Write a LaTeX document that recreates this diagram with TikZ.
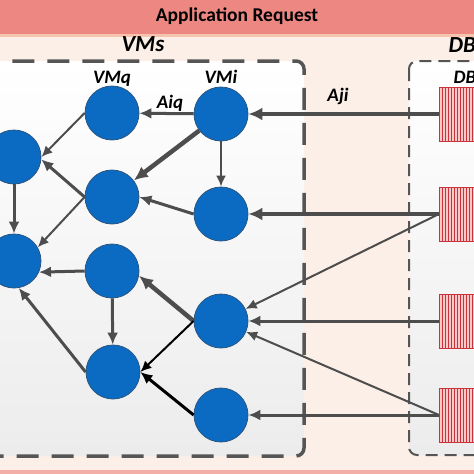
\documentclass[tikz,border=0pt]{standalone}
\usepackage{fontspec}
\setmainfont{Carlito}
\usetikzlibrary{arrows.meta}
\definecolor{vmblue}{HTML}{0B6BC2}
\definecolor{vmedge}{HTML}{2A5580}
\definecolor{linkgray}{HTML}{4D4D4D}
\definecolor{peach}{HTML}{FCEFE7}
\definecolor{banner}{HTML}{EC8782}
\definecolor{bannerlight}{HTML}{F6C3AE}
\definecolor{bottompink}{HTML}{F2AEA7}
\definecolor{boxgray}{HTML}{555555}
\definecolor{boxfill}{HTML}{ECECEC}
\definecolor{dbpink}{HTML}{F9C9C9}
\definecolor{dbred}{HTML}{C9343A}
\tikzset{
  vm/.style={circle,fill=vmblue,draw=vmedge,line width=0.8pt,minimum size=54pt,inner sep=0pt},
  dbbox/.style={rectangle,fill=dbpink,draw=dbred,line width=0.8pt,minimum width=50pt,minimum height=54pt,inner sep=0pt,anchor=west,
    path picture={\foreach \s in {1,...,16}{\draw[dbred,line width=0.9pt] ([xshift=\s*3pt]path picture bounding box.south west) -- ([xshift=\s*3pt]path picture bounding box.north west);}}},
  lab/.style={anchor=base,font=\fontsize{19}{19}\selectfont\bfseries\itshape},
  labbig/.style={lab,font=\fontsize{23}{23}\selectfont\bfseries\itshape},
  lnk/.style={draw=linkgray,-{Latex[length=11pt,width=10pt]}},
  lnkthin/.style={lnk,line width=2pt},
  lnkmid/.style={lnk,line width=3pt,-{Latex[length=12pt,width=11pt]}},
  lnkthick/.style={lnk,line width=4.5pt,-{Latex[length=14pt,width=13pt]}},
}
\begin{document}
\begin{tikzpicture}[x=1pt,y=-1pt]
\useasboundingbox (0,0) rectangle (474,474);
\clip (0,0) rectangle (474,474);
\fill[peach] (0,0) rectangle (474,474);
\fill[bannerlight] (0,0) rectangle (474,37);
\fill[banner] (0,0) rectangle (474,34);
\fill[bottompink] (0,470) rectangle (474,474);
\node[anchor=base,font=\fontsize{19.5}{19.5}\selectfont\bfseries] (req) at (237,21) {Application Request};

\draw[boxgray,line width=3.5pt,dash pattern=on 22pt off 13pt,rounded corners=8pt,top color=white,bottom color=boxfill] (-20,61) rectangle (304,456);
\draw[boxgray,line width=2pt,dash pattern=on 12pt off 7pt,rounded corners=8pt,top color=white,bottom color=boxfill] (409,61) rectangle (520,455);
\node[labbig] (vms) at (143,51) {VMs};
\node[labbig,anchor=base west] (dbs) at (445,52) {DBs};
\node[lab,anchor=base west] (dbj) at (450,83) {DBj};

\node[vm] (vmq) at (112,113) {};
\node[vm] (vmi) at (221,114) {};
\node[vm] (vml1) at (14,157) {};
\node[vm] (vmc1) at (112,197) {};
\node[vm] (vmr1) at (221,214) {};
\node[vm] (vml2) at (14,261) {};
\node[vm] (vmc2) at (112,271) {};
\node[vm] (vmr2) at (221,321) {};
\node[vm] (vmc3) at (113,372) {};
\node[vm] (vmr3) at (221,415) {};
\node[lab] (lq) at (112,83) {VMq};
\node[lab] (li) at (221,83) {VMi};
\node[lab] (aiq) at (170,108) {Aiq};
\node[lab] (aji) at (338,101) {Aji};

\node[dbbox] (db1) at (439,114) {};
\node[dbbox] (db2) at (439,214) {};
\node[dbbox] (db3) at (439,321) {};
\node[dbbox] (db4) at (439,415) {};

\draw[lnkthick] (db1.west) -- (vmi);
\draw[lnkthick] (db2.west) -- (vmr1);
\draw[lnkthin] (db2.west) -- (vmr2);
\draw[lnkmid] (db3.west) -- (vmr2);
\draw[lnkthin] (db4.west) -- (vmr2);
\draw[lnkmid] (db4.west) -- (vmr3);

\draw[lnkmid] (vmi) -- (vmq);
\draw[lnkthick] (vmi) -- (vmc1);
\draw[lnkthin] (vmi) -- (vmr1);
\draw[lnkthin] (vmq.west) -- (vml1.east);
\draw[lnkmid] (vmc1.west) -- (vml1.-5);
\draw[lnkthin] (vmc1.west) -- (vml2.30);
\draw[lnkmid] (vml1) -- (vml2);
\draw[lnkmid] (vmr1.west) -- (vmc1.east);
\draw[lnkmid] (vmc2.west) -- (vml2.-24);
\draw[lnkthick] (vmr2.west) -- (vmc2.-10);
\draw[lnkmid] (vmc2) -- (vmc3);
\draw[lnkmid] (vmc3.west) -- (vml2.-80);
\draw[lnkthin,draw=black] (vmr2.west) -- (vmc3.east);
\draw[lnkmid,draw=black] (vmr3.west) -- (vmc3.east);
\end{tikzpicture}
\end{document}
